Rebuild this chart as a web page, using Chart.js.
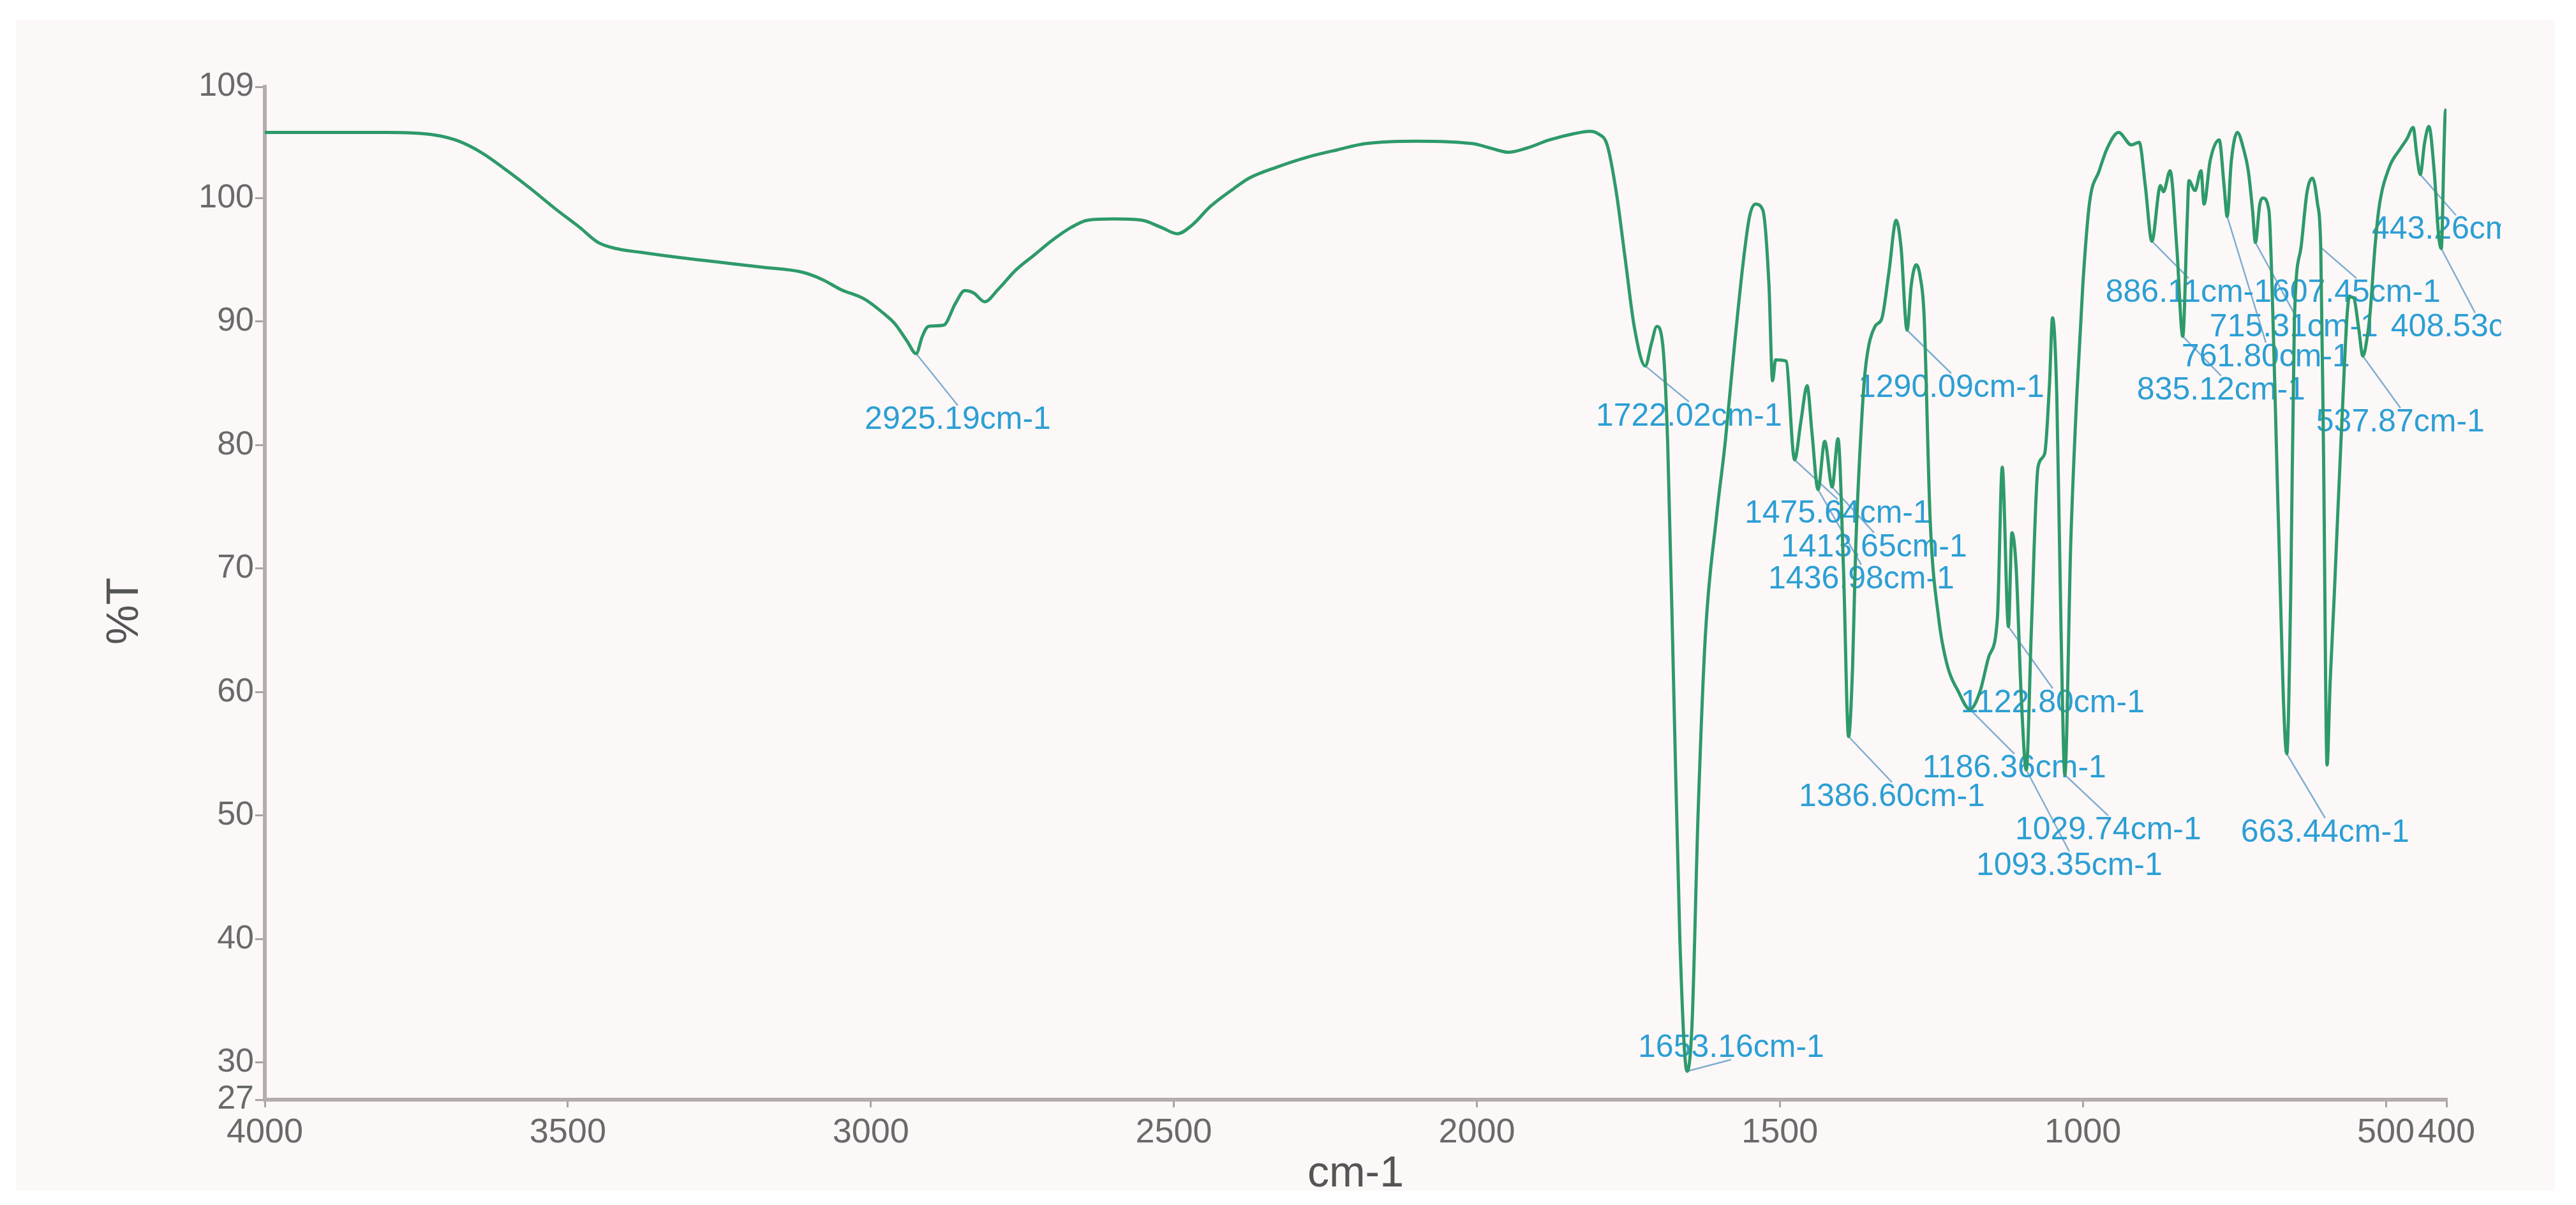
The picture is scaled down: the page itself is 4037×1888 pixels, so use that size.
<!DOCTYPE html>
<html>
<head>
<meta charset="utf-8">
<script src="https://cdn.jsdelivr.net/npm/chart.js@4.4.1/dist/chart.umd.min.js"></script>
<style>
    html, body { margin: 0; padding: 0; background: #fff; }
    #wrap { width: 4037px; height: 1888px; }
</style>
</head>
<body>
<div id="wrap"><canvas id="irChart"></canvas></div>
<script>
// Espectro IR: número de onda (cm-1) e transmitância (%T)
const wavenumbers = [
    4000, 3900, 3800, 3720, 3680, 3640, 3600, 3560, 3520, 3480,
    3450, 3420, 3380, 3320, 3250, 3180, 3114, 3080, 3050, 3010,
    2980, 2960, 2940, 2925.19, 2915, 2905, 2880, 2860, 2845, 2830,
    2812, 2790, 2760, 2730, 2700, 2670, 2642, 2600, 2553, 2520,
    2494, 2470, 2440, 2400, 2376, 2330, 2280, 2230, 2184, 2100,
    2007, 1975, 1948, 1920, 1880, 1840, 1814, 1800, 1785, 1770,
    1755, 1740, 1722.02, 1712, 1703, 1693, 1685, 1675, 1665, 1653.16,
    1645, 1635, 1623, 1605, 1590, 1575, 1560, 1550, 1540, 1528,
    1518, 1512, 1507, 1490, 1475.64, 1465, 1455, 1447, 1436.98, 1426,
    1413.65, 1404, 1395, 1386.60, 1380, 1375, 1365, 1359, 1343, 1332,
    1320, 1308, 1300, 1290.09, 1283, 1275, 1268, 1262, 1252, 1238,
    1225, 1205, 1186.36, 1170, 1155, 1141, 1133, 1122.80, 1117, 1110,
    1102, 1093.35, 1085, 1074, 1063, 1055, 1050, 1043, 1036, 1029.74,
    1020, 1010, 1000, 989, 973, 960, 941, 920, 907, 897,
    886.11, 872, 867, 856, 845, 835.12, 828, 825, 815, 805,
    800, 790, 775, 767, 761.80, 755, 745, 735, 727, 720,
    715.31, 708, 703, 693, 685, 678, 663.44, 657, 651, 640,
    630, 621, 613, 607.45, 603, 597, 592, 585, 574, 560,
    553, 545, 537.87, 530, 526, 518, 511, 495, 476, 465,
    455, 449, 443.26, 436, 429, 420, 413, 408.53, 404, 402,
    400
];
const transmittance = [
    105.3, 105.3, 105.3, 105.1, 104.6, 103.6, 102.2, 100.7, 99.1, 97.6,
    96.4, 95.9, 95.6, 95.2, 94.8, 94.4, 94.0, 93.4, 92.6, 91.8,
    90.7, 89.8, 88.4, 87.4, 88.8, 89.6, 89.7, 91.5, 92.5, 92.3,
    91.6, 92.6, 94.2, 95.4, 96.6, 97.6, 98.2, 98.3, 98.2, 97.6,
    97.1, 97.8, 99.3, 100.8, 101.6, 102.5, 103.3, 103.9, 104.4, 104.6,
    104.4, 104.0, 103.7, 104.0, 104.7, 105.2, 105.4, 105.2, 104.3, 100.5,
    95.0, 89.5, 86.4, 88.2, 89.6, 88.0, 80.0, 60.0, 40.0, 29.3,
    33.0, 50.0, 64.5, 74.0, 80.3, 88.0, 95.0, 98.5, 99.5, 99.0,
    93.0, 85.2, 86.9, 86.8, 78.8, 82.0, 84.8, 81.0, 76.4, 80.3,
    76.6, 80.5, 70.0, 56.4, 62.0, 71.4, 82.0, 86.1, 89.6, 90.2,
    94.0, 98.2, 96.0, 89.3, 93.0, 94.6, 93.5, 90.5, 74.0, 66.0,
    62.4, 60.0, 58.6, 60.0, 62.9, 66.0, 78.2, 65.3, 72.9, 70.0,
    60.0, 53.7, 65.0, 78.2, 79.3, 85.0, 90.3, 84.0, 65.0, 53.3,
    72.0, 84.0, 93.0, 99.6, 102.2, 104.0, 105.3, 104.3, 104.5, 101.0,
    96.5, 101.0, 100.5, 102.2, 96.0, 88.8, 98.0, 101.4, 100.6, 102.2,
    99.5, 103.0, 104.7, 101.0, 98.5, 103.0, 105.3, 104.0, 102.2, 99.0,
    96.4, 99.5, 100.0, 99.0, 88.0, 75.0, 55.0, 68.0, 90.0, 96.0,
    100.5, 101.6, 99.6, 96.0, 80.0, 54.1, 60.7, 68.0, 80.4, 92.0,
    91.9, 89.5, 87.2, 89.0, 90.7, 96.0, 99.3, 102.4, 104.0, 104.8,
    105.7, 103.5, 101.9, 104.5, 105.8, 102.0, 97.0, 95.9, 104.0, 106.9,
    107.2
];

// Marcas dos eixos
const xTicks = [4000, 3500, 3000, 2500, 2000, 1500, 1000, 500, 400];
const yTicks = [27, 30, 40, 50, 60, 70, 80, 90, 100, 109];

// Picos anotados
const peakLabels = [
    '2925.19cm-1', '1722.02cm-1', '1653.16cm-1', '1475.64cm-1', '1413.65cm-1',
    '1436.98cm-1', '1386.60cm-1', '1290.09cm-1', '1122.80cm-1', '1186.36cm-1',
    '1029.74cm-1', '1093.35cm-1', '886.11cm-1', '607.45cm-1', '715.31cm-1',
    '761.80cm-1', '835.12cm-1', '537.87cm-1', '663.44cm-1', '443.26cm-1',
    '408.53cm-1'
];
const peakWn = [
    2925.19, 1722.02, 1653.16, 1475.64, 1413.65,
    1436.98, 1386.60, 1290.09, 1122.80, 1186.36,
    1029.74, 1093.35, 886.11, 607.45, 715.31,
    761.80, 835.12, 537.87, 663.44, 443.26,
    408.53
];
// onde termina a linha de cada rótulo (cm-1, %T)
const labelWn = [
    2856.5, 1650, 1580.4, 1404.6, 1344.6,
    1365.6, 1315, 1217.2, 1049.8, 1113,
    958.2, 1022.4, 825.5, 548.6, 651.8,
    698.1, 771.8, 476, 600.2, 384.3,
    352.8
];
const labelT = [
    83.2, 83.5, 30.24, 75.6, 72.9,
    70.3, 52.7, 85.8, 60.3, 55.0,
    50.0, 47.1, 93.5, 93.5, 90.7,
    88.3, 85.6, 83.0, 49.8, 98.6,
    90.7
];
const labelClipWn = 310;

const fontFamily = '"Liberation Sans", Arial, sans-serif';

// Fundo da figura
const pageBackground = {
    id: 'pageBackground',
    beforeDraw(chart) {
        const ctx = chart.ctx;
        ctx.save();
        ctx.fillStyle = '#ffffff';
        ctx.fillRect(0, 0, chart.width, chart.height);
        ctx.fillStyle = '#fdf8f8';
        ctx.fillRect(25, 31, chart.width - 58, chart.height - 53);
        ctx.restore();
    }
};

// Rótulos dos picos com linha de chamada
const peakNotes = {
    id: 'peakNotes',
    beforeDatasetsDraw(chart) {
        const { ctx, scales: { x, y } } = chart;
        ctx.save();
        ctx.beginPath();
        ctx.rect(0, 0, x.getPixelForValue(labelClipWn), chart.height);
        ctx.clip();

        const pts = peakLabels.map((txt, i) => {
            const pT = transmittance[wavenumbers.indexOf(peakWn[i])];
            return {
                txt: txt,
                px: x.getPixelForValue(peakWn[i]),
                py: y.getPixelForValue(pT),
                lx: x.getPixelForValue(labelWn[i]),
                ly: y.getPixelForValue(labelT[i])
            };
        });

        ctx.strokeStyle = '#80aed0';
        ctx.lineWidth = 2.5;
        pts.forEach(p => {
            ctx.beginPath();
            ctx.moveTo(p.px, p.py);
            ctx.lineTo(p.lx, p.ly);
            ctx.stroke();
        });

        ctx.fillStyle = '#2c9fd4';
        ctx.font = '50px ' + fontFamily;
        ctx.textAlign = 'center';
        ctx.textBaseline = 'alphabetic';
        pts.forEach(p => {
            // rótulo acima do pico: a linha chega por baixo do texto
            const base = p.ly < p.py ? p.ly - 4 : p.ly + 37;
            ctx.fillText(p.txt, p.lx, base);
        });
        ctx.restore();
    }
};

// Títulos dos eixos
const axisTitles = {
    id: 'axisTitles',
    afterDraw(chart) {
        const { ctx, chartArea } = chart;
        ctx.save();
        ctx.fillStyle = '#555555';
        ctx.textAlign = 'center';
        ctx.font = '68px ' + fontFamily;
        ctx.textBaseline = 'alphabetic';
        ctx.fillText('cm-1', (chartArea.left + chartArea.right) / 2, chartArea.bottom + 136);

        ctx.translate(chartArea.left - 218, (chartArea.top + chartArea.bottom) / 2 + 28);
        ctx.rotate(-Math.PI / 2);
        ctx.font = '70px ' + fontFamily;
        ctx.textBaseline = 'middle';
        ctx.fillText('%T', 0, 0);
        ctx.restore();
    }
};

new Chart(document.getElementById('irChart'), {
    type: 'line',
    data: {
        datasets: [{
            label: '%T',
            data: wavenumbers.map((w, i) => ({ x: w, y: transmittance[i] })),
            borderColor: '#2e9a6a',
            borderWidth: 5,
            pointRadius: 0,
            fill: false,
            cubicInterpolationMode: 'monotone'
        }]
    },
    options: {
        responsive: true,
        maintainAspectRatio: false,
        animation: false,
        devicePixelRatio: 1,
        layout: { padding: { top: 136, right: 203, left: 0, bottom: 0 } },
        plugins: {
            legend: { display: false },
            tooltip: { enabled: false }
        },
        scales: {
            x: {
                type: 'linear',
                reverse: true,
                min: 400,
                max: 4000,
                afterBuildTicks: s => { s.ticks = xTicks.map(v => ({ value: v })); },
                afterFit: s => { s.height = 165; },
                ticks: {
                    autoSkip: false,
                    maxRotation: 0,
                    padding: 8,
                    color: '#6a6a6a',
                    font: { family: fontFamily, size: 54 },
                    callback: v => String(v)
                },
                grid: { drawOnChartArea: false, tickLength: 12, color: '#a9a3a3', lineWidth: 3 },
                border: { display: true, color: '#b3adad', width: 6 }
            },
            y: {
                min: 27,
                max: 109,
                afterBuildTicks: s => { s.ticks = yTicks.map(v => ({ value: v })); },
                afterFit: s => { s.width = 415; },
                ticks: {
                    autoSkip: false,
                    padding: 2,
                    color: '#6a6a6a',
                    font: { family: fontFamily, size: 52 },
                    callback: v => String(v)
                },
                grid: { drawOnChartArea: false, tickLength: 15, color: '#a9a3a3', lineWidth: 3 },
                border: { display: true, color: '#b3adad', width: 6 }
            }
        }
    },
    plugins: [pageBackground, peakNotes, axisTitles]
});
</script>
</body>
</html>
